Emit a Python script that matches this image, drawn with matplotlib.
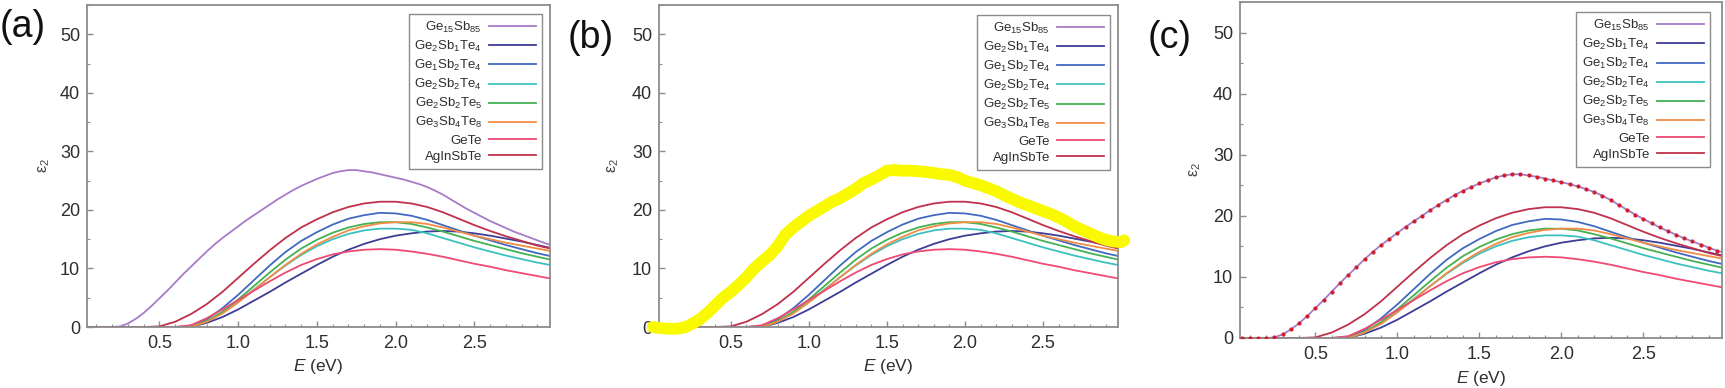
import matplotlib
matplotlib.use('Agg')
import matplotlib.pyplot as plt
from matplotlib.lines import Line2D
from matplotlib.ticker import MultipleLocator, FormatStrFormatter

plt.rcParams['font.family'] = ['Liberation Sans', 'DejaVu Sans']
plt.rcParams['mathtext.fontset'] = 'custom'
plt.rcParams['mathtext.it'] = 'Liberation Sans:italic'
plt.rcParams['mathtext.default'] = 'regular'

# --- data (photon energy in eV, epsilon_2) ---
energy = [0.05, 0.1, 0.2, 0.3, 0.4, 0.5, 0.6, 0.7, 0.8, 0.9, 1.0, 1.1, 1.2, 1.3, 1.4, 1.5,
          1.6, 1.7, 1.8, 1.9, 2.0, 2.1, 2.2, 2.3, 2.4, 2.5, 2.6, 2.7, 2.8, 2.9, 3.0]

ge2sb1te4 = [0, 0, 0, 0, 0, 0, 0, 0, 0.7, 1.7, 3.0, 4.5, 6.0, 7.6, 9.1, 10.6, 12.0, 13.2, 14.2,
             15.0, 15.6, 16.0, 16.3, 16.4, 16.3, 16.0, 15.6, 15.1, 14.6, 14.0, 13.4]
ge1sb2te4 = [0, 0, 0, 0, 0, 0, 0, 0.2, 1.3, 3.2, 5.5, 8.0, 10.5, 12.8, 14.7, 16.2, 17.5, 18.5,
             19.1, 19.5, 19.4, 19.0, 18.3, 17.4, 16.5, 15.6, 14.8, 14.0, 13.3, 12.6, 12.0]
ge2sb2te4 = [0, 0, 0, 0, 0, 0, 0, 0, 0.9, 2.4, 4.3, 6.4, 8.5, 10.5, 12.3, 13.8, 15.0, 15.9, 16.5,
             16.8, 16.8, 16.6, 16.0, 15.2, 14.4, 13.6, 12.9, 12.2, 11.6, 11.0, 10.5]
ge2sb2te5 = [0, 0, 0, 0, 0, 0, 0, 0, 1.0, 2.6, 4.7, 7.0, 9.3, 11.5, 13.4, 14.9, 16.1, 17.0, 17.6,
             17.9, 17.9, 17.6, 17.0, 16.3, 15.5, 14.7, 14.0, 13.3, 12.6, 12.0, 11.4]
ge3sb4te8 = [0, 0, 0, 0, 0, 0, 0, 0, 0.9, 2.3, 4.2, 6.3, 8.5, 10.6, 12.5, 14.1, 15.4, 16.5, 17.2,
             17.7, 17.9, 17.9, 17.6, 17.0, 16.3, 15.6, 15.0, 14.4, 13.9, 13.4, 12.9]
gete = [0, 0, 0, 0, 0, 0, 0, 0.3, 1.5, 3.0, 4.6, 6.2, 7.8, 9.3, 10.6, 11.6, 12.4, 12.9, 13.2,
        13.3, 13.2, 12.9, 12.5, 12.0, 11.4, 10.8, 10.3, 9.7, 9.2, 8.7, 8.2]
aginsbte = [0, 0, 0, 0, 0, 0.1, 0.9, 2.2, 3.9, 6.0, 8.4, 10.8, 13.1, 15.2, 17.0, 18.4, 19.6, 20.5,
            21.1, 21.4, 21.4, 21.1, 20.5, 19.6, 18.5, 17.4, 16.4, 15.5, 14.7, 13.9, 13.3]

# Ge15Sb85 read at the 0.05 eV points marked in panel (c)
energy_fine = [0.05, 0.10, 0.15, 0.20, 0.25, 0.30, 0.35, 0.40, 0.45, 0.50, 0.55, 0.60, 0.65, 0.70,
               0.75, 0.80, 0.85, 0.90, 0.95, 1.00, 1.05, 1.10, 1.15, 1.20, 1.25, 1.30, 1.35, 1.40,
               1.45, 1.50, 1.55, 1.60, 1.65, 1.70, 1.75, 1.80, 1.85, 1.90, 1.95, 2.00, 2.05, 2.10,
               2.15, 2.20, 2.25, 2.30, 2.35, 2.40, 2.45, 2.50, 2.55, 2.60, 2.65, 2.70, 2.75, 2.80,
               2.85, 2.90, 2.95, 3.00]
ge15sb85 = [0, 0, 0, 0, 0.1, 0.6, 1.4, 2.4, 3.6, 4.9, 6.2, 7.6, 9.0, 10.3,
            11.6, 12.9, 14.1, 15.2, 16.2, 17.2, 18.2, 19.1, 20.0, 20.9, 21.8, 22.6, 23.4, 24.1,
            24.7, 25.3, 25.8, 26.3, 26.6, 26.8, 26.8, 26.6, 26.4, 26.1, 25.8, 25.5, 25.2, 24.8,
            24.4, 23.9, 23.3, 22.6, 21.8, 21.0, 20.2, 19.5, 18.8, 18.1, 17.5, 16.9, 16.3, 15.8,
            15.3, 14.8, 14.3, 13.9]

# hand traced yellow curve of panel (b)
trace_e = [0.0, 0.05, 0.1, 0.15, 0.2, 0.25, 0.3, 0.35, 0.4, 0.45, 0.5, 0.55, 0.6, 0.65, 0.7,
           0.75, 0.8, 0.85, 0.9, 0.95, 1.0, 1.05, 1.1, 1.15, 1.2, 1.25, 1.3, 1.35, 1.4, 1.45,
           1.5, 1.55, 1.6, 1.65, 1.7, 1.75, 1.8, 1.85, 1.9, 1.95, 2.0, 2.05, 2.1, 2.15, 2.2,
           2.25, 2.3, 2.35, 2.4, 2.45, 2.5, 2.55, 2.6, 2.65, 2.7, 2.75, 2.8, 2.85, 2.9, 2.95,
           3.0, 3.02]
trace_v = [0.0, -0.2, -0.3, -0.3, -0.1, 0.5, 1.3, 2.4, 3.7, 5.0, 6.0, 7.2, 8.5, 10.0, 11.2,
           12.3, 13.8, 15.8, 17.0, 18.0, 19.0, 19.8, 20.6, 21.4, 22.0, 22.8, 23.6, 24.6, 25.2, 25.9,
           26.7, 26.8, 26.7, 26.7, 26.6, 26.5, 26.3, 26.1, 26.0, 25.6, 25.0, 24.6, 24.2, 23.7, 23.2,
           22.5, 21.9, 21.3, 20.8, 20.3, 19.8, 19.3, 18.7, 18.0, 17.2, 16.6, 16.0, 15.4, 14.9, 14.6,
           14.5, 14.8]

labels = ['Ge$_{15}$Sb$_{85}$', 'Ge$_2$Sb$_1$Te$_4$', 'Ge$_1$Sb$_2$Te$_4$', 'Ge$_2$Sb$_2$Te$_4$',
          'Ge$_2$Sb$_2$Te$_5$', 'Ge$_3$Sb$_4$Te$_8$', 'GeTe', 'AgInSbTe']
colors = ['#a77bc7', '#3d3d96', '#4169c0', '#3cc1c0', '#44b152', '#f28c45', '#ee4a72', '#c0304a']
others = [ge2sb1te4, ge1sb2te4, ge2sb2te4, ge2sb2te5, ge3sb4te8, gete, aginsbte]

W, H = 1725, 388
fig = plt.figure(figsize=(W / 100, H / 100), dpi=100)

# axes boxes in pixels: left, top, right, bottom
boxes = [(87, 5, 550, 327), (659, 5, 1118, 327), (1240, 2, 1722, 338)]
legend_anchor = [(0.983, 0.972), (0.983, 0.969), (0.975, 0.970)]
tags = ['(a)', '(b)', '(c)']
tag_pos = [(0, 27), (568, 38), (1148, 38)]
ylab_x = [-0.0756, -0.083, -0.077]

grey = '#8c8c8c'
txt = '#2e2e2e'

for i, (l, t, r, b) in enumerate(boxes):
    ax = fig.add_axes([l / W, 1 - b / H, (r - l) / W, (b - t) / H])
    # curves
    if i != 1:
        ax.plot(energy_fine, ge15sb85, color=colors[0], lw=1.3)
    for vals, c in zip(others, colors[1:]):
        ax.plot(energy, vals, color=c, lw=1.3)
    if i == 1:
        ax.plot(trace_e, trace_v, color='#f9f900', lw=8.5, solid_capstyle='round',
                solid_joinstyle='round', clip_on=False, zorder=5)
    if i == 2:
        ax.plot(energy_fine[:-1], ge15sb85[:-1], ls='none', marker='o', ms=3.0,
                color='#d01f2a', mec='none', zorder=4)

    ax.set_xlim(0.04, 2.98)
    ax.set_ylim(0, 55)
    ax.xaxis.set_major_locator(MultipleLocator(0.5))
    ax.xaxis.set_minor_locator(MultipleLocator(0.1))
    ax.xaxis.set_major_formatter(FormatStrFormatter('%.1f'))
    ax.yaxis.set_major_locator(MultipleLocator(10))
    ax.yaxis.set_minor_locator(MultipleLocator(5))
    ax.tick_params(which='both', direction='in', color=grey, labelcolor=txt, labelsize=13)
    ax.tick_params(which='major', length=4, width=1)
    ax.tick_params(which='minor', length=2.5, width=0.8)
    ax.tick_params(axis='x', pad=6)
    ax.tick_params(axis='y', pad=5)
    for sp in ax.spines.values():
        sp.set_color(grey)
        sp.set_linewidth(1.3)

    ax.set_xlabel(r'$\mathit{E}$ (eV)', fontsize=12.5, color=txt)
    ax.xaxis.set_label_coords(0.5, -0.093)
    ax.set_ylabel('ε$_2$', fontsize=11.5, color='#444444')
    ax.yaxis.set_label_coords(ylab_x[i], 0.5)

    handles = [Line2D([], [], color=c, lw=1.3) for c in colors]
    leg = ax.legend(handles, labels, loc='upper right', bbox_to_anchor=legend_anchor[i],
                    borderaxespad=0, markerfirst=False, fontsize=9.5, handlelength=3.6,
                    handletextpad=0.5, labelspacing=0.3, borderpad=0.45, fancybox=False,
                    framealpha=1, edgecolor=grey, labelcolor=txt)
    leg.get_frame().set_linewidth(1.0)

    fig.text(tag_pos[i][0] / W, 1 - tag_pos[i][1] / H, tags[i], fontsize=27,
             family='Liberation Sans', va='center', ha='left', color='#111111')

fig.savefig('out.png', dpi=100)
